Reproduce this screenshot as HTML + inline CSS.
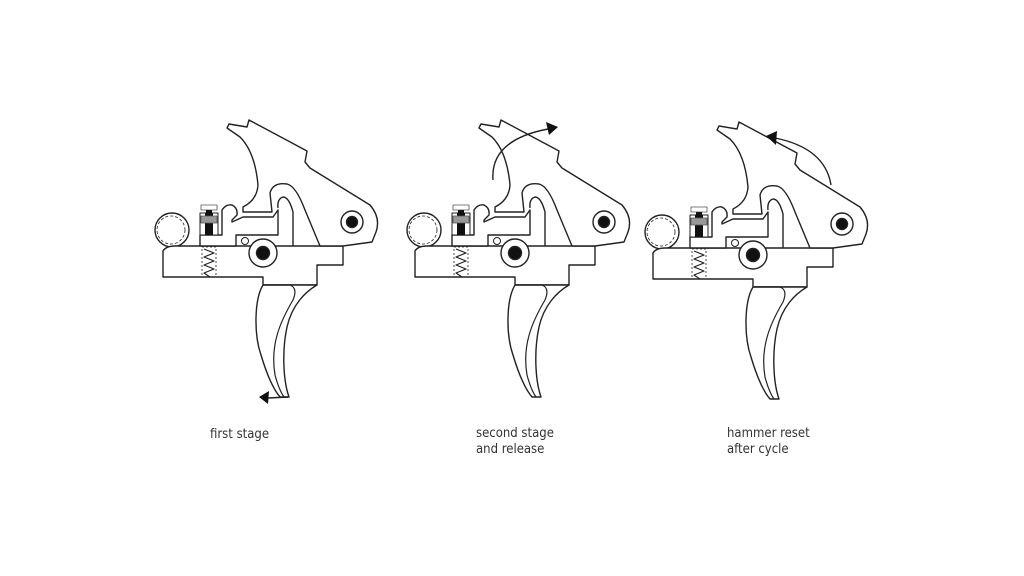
<!DOCTYPE html>
<html><head><style>
body{margin:0;background:#fff;width:1024px;height:576px;overflow:hidden}
svg{position:absolute;left:0;top:0}
.t{font-family:"DejaVu Sans Condensed","Liberation Sans",sans-serif;font-size:13px;fill:#333}
</style></head><body>
<svg width="1024" height="576" viewBox="0 0 1024 576">
<defs>
<g id="fig" fill="#fff" stroke="#222" stroke-width="1.4" stroke-linejoin="round">
  <!-- ball -->
  <circle cx="172" cy="230" r="17"/>
  <circle cx="171" cy="230" r="14" fill="none" stroke-width="0.8" stroke-dasharray="3,2"/>
  <!-- frame -->
  <path d="M163,277 L163,251 Q166,246 175,246 L343,246 L343,265 L317,265 L317,285 L263,285 L263,277 Z"/>
  <!-- trigger -->
  <path d="M263,285 C254,300 254,335 261,355 C267,375 274,390 280,397 L289,397 C283,380 282,350 287,327 C292,305 305,292 317,285 Z"/>
  <path d="M263,285 L290,285 Q298,288 293,300 C280,322 270,345 275,375 Q279,390 284,397" fill="none" stroke-width="1.2"/>
  <!-- hammer -->
  <path d="M227,128 L229,124 L247,127 L249,120 L307,151 L305,162 L310,168 L370,205 Q381,218 376,232 L372,242 L343,246 L320,246 L305,210 Q296,186 287,184 Q273,182 270,193 L272,212 L243,212 L243,207 Q257,200 258,185 Q255,152 240,137 Z"/>
  <path d="M278,208 Q277,199 283,197 Q289,197 293,212 L293,246" fill="none"/>
  <!-- sear block -->
  <path d="M200,246 L200,235 L222,235 L222,210 Q226,204 232,205 Q238,208 237,215 L232,220 L232,222 L243,217 L273,217 L278,210 L278,235 L236,235 L236,246 Z"/>
  <!-- pins -->
  <circle cx="352" cy="222" r="11"/><circle cx="352" cy="222" r="5.5" fill="#111"/>
  <circle cx="263" cy="253" r="14"/><circle cx="263" cy="253" r="6.5" fill="#111"/>
  <circle cx="245" cy="241" r="3.5" stroke-width="1"/>
  <path d="M236,246 L251,246" stroke-dasharray="2,2" stroke-width="1" fill="none"/>
  <!-- spring -->
  <rect x="202" y="247" width="14" height="30" fill="none" stroke-width="0.8" stroke-dasharray="2,2"/>
  <path d="M204,249 L214,253 L204,257 L214,261 L204,265 L214,269 L204,273 L210,277" fill="none" stroke-width="1.2"/>
  <!-- screw -->
  <rect x="200" y="213" width="18" height="22" fill="#fff" stroke-width="1"/>
  <rect x="205" y="213" width="8" height="22" fill="#111" stroke="none"/>
  <rect x="201" y="216" width="16" height="7" fill="#999" stroke="#555" stroke-width="0.8"/>
  <rect x="201" y="205" width="16" height="5" fill="#fff" stroke="#555" stroke-width="0.8"/>
  <rect x="206" y="210" width="6" height="3" fill="#111" stroke="none"/>
</g>
</defs>
<use href="#fig"/>
<use href="#fig" transform="translate(252,0)"/>
<use href="#fig" transform="translate(490,2)"/>
<!-- arrows -->
<path d="M288,397 L268,398" fill="none" stroke="#222" stroke-width="1.4"/>
<path d="M259,397 L269,391 L268,404 Z" fill="#111"/>
<path d="M493,180 Q490,140 548,129" fill="none" stroke="#222" stroke-width="1.4"/>
<path d="M558,127 L546,122 L549,135 Z" fill="#111"/>
<path d="M831,185 Q825,148 775,138" fill="none" stroke="#222" stroke-width="1.4"/>
<path d="M766,136 L777,131 L776,145 Z" fill="#111"/>
<text class="t" x="210" y="438">first stage</text>
<text class="t" x="476" y="437">second stage</text>
<text class="t" x="476" y="453">and release</text>
<text class="t" x="727" y="437">hammer reset</text>
<text class="t" x="727" y="453">after cycle</text>
</svg>
</body></html>
